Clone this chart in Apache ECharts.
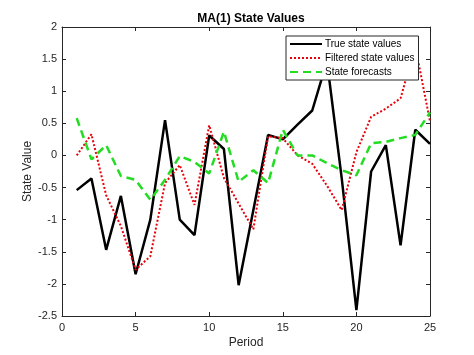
<!DOCTYPE html>
<html>
<head>
<meta charset="utf-8">
<script src="https://cdn.jsdelivr.net/npm/echarts@6/dist/echarts.min.js"></script>
<style>html,body{margin:0;padding:0;background:#fff;}#c{width:474px;height:355px;}</style>
</head>
<body>
<div id="c"></div>
<script>
const periods = [1,2,3,4,5,6,7,8,9,10,11,12,13,14,15,16,17,18,19,20,21,22,23,24,25];
const trueStates = [-0.54,-0.36,-1.47,-0.63,-1.85,-1.0,0.55,-1.0,-1.24,0.31,0.1,-2.02,-0.85,0.32,0.25,0.48,0.70,1.47,-0.35,-2.41,-0.25,0.16,-1.40,0.40,0.18];
const filteredStates = [0.0,0.33,-0.62,-1.1,-1.78,-1.57,-0.43,-0.15,-0.77,0.47,-0.35,-0.75,-1.15,0.3,0.27,0.0,-0.13,-0.47,-0.85,0.05,0.60,0.73,0.89,1.7,0.53];
const forecasts = [0.58,-0.06,0.16,-0.32,-0.38,-0.69,-0.38,-0.01,-0.1,-0.28,0.37,-0.41,-0.23,-0.43,0.40,0.0,0.0,-0.12,-0.23,-0.31,0.19,0.21,0.27,0.32,0.67];
const seriesNames = ['True state values','Filtered state values','State forecasts'];

const pair = arr => periods.map((p,i)=>[p,arr[i]]);
const font = 'Liberation Sans, Arial, Helvetica, sans-serif';
const axisColor = '#262626';

const chart = echarts.init(document.getElementById('c'), null, {renderer:'canvas'});
const baseAxis = {
  axisLine:{show:true,onZero:false,lineStyle:{color:axisColor,width:1}},
  axisTick:{show:true,inside:true,length:4,lineStyle:{color:axisColor}},
  splitLine:{show:false},
  axisLabel:{color:axisColor,fontFamily:font,fontSize:11}
};
chart.setOption({
  animation:false,
  backgroundColor:'#fff',
  title:{text:'MA(1) State Values',left:246,top:8,textAlign:'center',
    textStyle:{fontFamily:font,fontSize:12,fontWeight:'bold',color:'#000'}},
  grid:{left:62,right:44,top:27,bottom:39},
  legend:{
    orient:'vertical',left:286,top:36,
    backgroundColor:'#fff',borderColor:axisColor,borderWidth:1,
    padding:[3,4,3,3],itemGap:4,itemWidth:32,itemHeight:10,
    itemStyle:{opacity:0},
    textStyle:{fontFamily:font,fontSize:10,color:'#000',padding:[0,0,0,-2]},
    data:seriesNames
  },
  xAxis:[
    Object.assign({},baseAxis,{type:'value',min:0,max:25,interval:5,position:'bottom',
      name:'Period',nameLocation:'middle',nameGap:21,nameMoveOverlap:false,
      nameTextStyle:{fontFamily:font,fontSize:12,color:axisColor},
      axisLabel:Object.assign({},baseAxis.axisLabel,{margin:6})}),
    Object.assign({},baseAxis,{type:'value',min:0,max:25,interval:5,position:'top',axisLabel:{show:false}})
  ],
  yAxis:[
    Object.assign({},baseAxis,{type:'value',min:-2.5,max:2,interval:0.5,position:'left',
      name:'State Value',nameLocation:'middle',nameGap:28,nameMoveOverlap:false,
      nameTextStyle:{fontFamily:font,fontSize:12,color:axisColor},
      axisLabel:Object.assign({},baseAxis.axisLabel,{margin:5})}),
    Object.assign({},baseAxis,{type:'value',min:-2.5,max:2,interval:0.5,position:'right',axisLabel:{show:false}})
  ],
  series:[
    {name:seriesNames[0],type:'line',data:pair(trueStates),symbol:'none',
      lineStyle:{color:'#000',width:2.5,type:'solid'},itemStyle:{color:'#000'}},
    {name:seriesNames[1],type:'line',data:pair(filteredStates),symbol:'none',
      lineStyle:{color:'#e8000b',width:2,type:[2,2]},itemStyle:{color:'#e8000b'}},
    {name:seriesNames[2],type:'line',data:pair(forecasts),symbol:'none',
      lineStyle:{color:'#22dd22',width:2.5,type:[8,5]},itemStyle:{color:'#22dd22'}}
  ]
});
</script>
</body>
</html>
